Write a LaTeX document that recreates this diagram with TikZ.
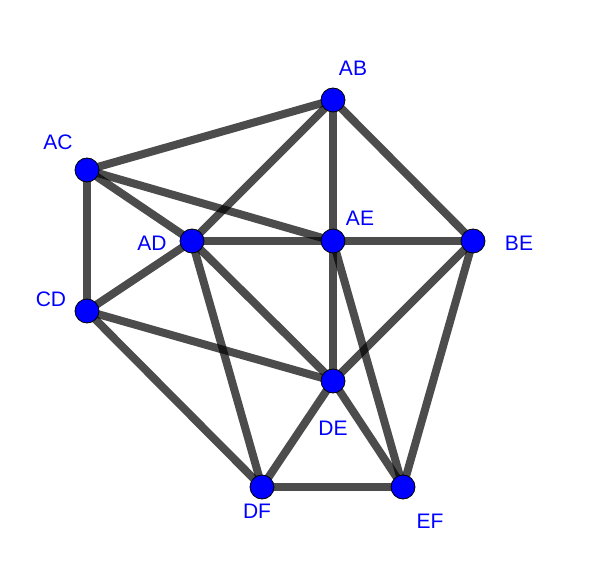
\documentclass[tikz,border=0pt]{standalone}
\usepackage{fontspec}
\setmainfont{Liberation Sans}
\definecolor{vblue}{RGB}{0,0,255}
\begin{document}
\begin{tikzpicture}[x=1pt,y=-1pt,
  vtx/.style={circle,fill=vblue,draw=black,line width=0.8pt,minimum size=24pt,inner sep=0pt},
  lbl/.style={text=vblue,font=\fontsize{21}{21}\selectfont,inner sep=0pt},
  edge/.style={draw=black,draw opacity=0.7,line width=8pt}]
\useasboundingbox (0,0) rectangle (590,575);
\coordinate (AB) at (333,100);
\coordinate (AC) at (87,170);
\coordinate (AD) at (192,241);
\coordinate (AE) at (333,241);
\coordinate (BE) at (473,241);
\coordinate (CD) at (87,311);
\coordinate (DE) at (333,381);
\coordinate (DF) at (262,487);
\coordinate (EF) at (403,487);
\foreach \a/\b in {AB/AC,AB/AD,AB/AE,AB/BE,AC/CD,AC/AD,AC/AE,AD/AE,AE/BE,AD/CD,AD/DE,AD/DF,AE/DE,AE/EF,BE/DE,BE/EF,CD/DE,CD/DF,DE/DF,DE/EF,DF/EF}
  \path[edge] (\a) -- (\b);
\foreach \n in {AB,AC,AD,AE,BE,CD,DE,DF,EF}
  \node[vtx] (v\n) at (\n) {};
\node[lbl] (lAB) at (353,68) {AB};
\node[lbl] (lAC) at (58,142) {AC};
\node[lbl] (lAD) at (152,243) {AD};
\node[lbl] (lAE) at (360,218) {AE};
\node[lbl] (lBE) at (519,243) {BE};
\node[lbl] (lCD) at (51,299) {CD};
\node[lbl] (lDE) at (333,428) {DE};
\node[lbl] (lDF) at (257,511) {DF};
\node[lbl] (lEF) at (430,521) {EF};
\end{tikzpicture}
\end{document}
